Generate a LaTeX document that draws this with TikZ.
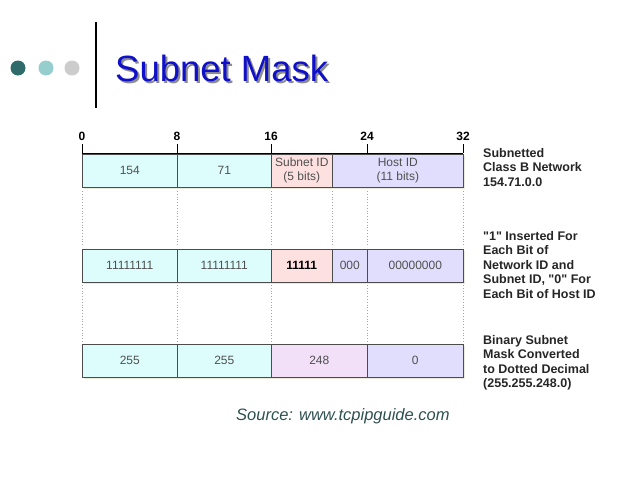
\documentclass[tikz,border=0pt]{standalone}
\usepackage{fontspec}
\defaultfontfeatures[\rmfamily]{}
\setmainfont{Liberation Sans}
\usetikzlibrary{shadows}
\definecolor{cy}{HTML}{DDFCFC}
\definecolor{pk}{HTML}{FDE0E0}
\definecolor{lv}{HTML}{E0DEFC}
\definecolor{lp}{HTML}{F2E0F8}
\definecolor{tx}{HTML}{505050}
\begin{document}
\begin{tikzpicture}[x=1pt,y=-1pt,
  cell/.style={draw=black!70,line width=0.6pt,minimum height=33pt,inner sep=0pt,anchor=north west,font=\fontsize{12}{14}\selectfont,text=tx,align=center},
  lbl/.style={anchor=north west,inner sep=0pt,font=\bfseries\fontsize{12.5}{14.5}\selectfont,align=left,text=black!85},
  dotl/.style={dotted,line width=0.8pt,black!35},
  tick/.style={font=\bfseries\fontsize{12}{13}\selectfont}]
\useasboundingbox (0,0) rectangle (638,479);
\fill[white] (0,0) rectangle (638,479);
% header
\node[circle,fill={rgb,255:red,150;green,205;blue,205},minimum size=15pt,inner sep=0] (d2) at (46,68) {};
\node[circle,fill=black!20,minimum size=15pt,inner sep=0] (d3) at (72,68) {};
\node[circle,fill={rgb,255:red,47;green,107;blue,107},minimum size=15pt,inner sep=0] (d1) at (18,68) {};
\draw[line width=1.6pt] (96,22) -- (96,108);
\node[anchor=west,inner sep=0,font=\fontsize{36.5}{38}\selectfont,text=black!45] (titleshadow) at (117,70) {Subnet Mask};
\node[anchor=west,inner sep=0,font=\fontsize{36.5}{38}\selectfont,text={rgb,255:red,16;green,16;blue,200}] (title) at (115,68) {Subnet Mask};
% scale
\draw[line width=1pt] (82,153) -- (463,153);
\foreach \b/\x in {0/82,8/177,16/271,24/367,32/463}{
  \draw[line width=1pt] (\x,144) -- (\x,153);
  \node[tick] (t\b) at (\x,136) {\b};}
% dotted
\foreach \x in {82,177,271,332,367,463} \draw[dotl] (\x,191) -- (\x,247);
\foreach \x in {82,177,271,367,463} \draw[dotl] (\x,285) -- (\x,342);
% rows
\begin{scope}[every node/.append style={drop shadow={shadow xshift=2pt,shadow yshift=-2pt,fill=yellow!40!black!25,opacity=0.6}}]
\node[cell,fill=cy,minimum width=95pt] (a1) at (82,154) {154};
\node[cell,fill=cy,minimum width=94pt] (a2) at (177,154) {71};
\node[cell,fill=pk,minimum width=61pt] (a3) at (271,154) {Subnet ID\\(5 bits)};
\node[cell,fill=lv,minimum width=131pt] (a4) at (332,154) {Host ID\\(11 bits)};
\node[cell,fill=cy,minimum width=95pt] (b1) at (82,249) {11111111};
\node[cell,fill=cy,minimum width=94pt] (b2) at (177,249) {11111111};
\node[cell,fill=pk,minimum width=61pt,font=\bfseries\fontsize{12}{14}\selectfont,text=black] (b3) at (271,249) {11111};
\node[cell,fill=lv,minimum width=35pt] (b4) at (332,249) {000};
\node[cell,fill=lv,minimum width=96pt] (b5) at (367,249) {00000000};
\node[cell,fill=cy,minimum width=95pt] (c1) at (82,344) {255};
\node[cell,fill=cy,minimum width=94pt] (c2) at (177,344) {255};
\node[cell,fill=lp,minimum width=96pt] (c3) at (271,344) {248};
\node[cell,fill=lv,minimum width=96pt] (c4) at (367,344) {0};
\end{scope}
% labels
\node[lbl] (l1) at (483,148) {Subnetted\\Class B Network\\154.71.0.0};
\node[lbl] (l2) at (483,231) {"1" Inserted For\\Each Bit of\\Network ID and\\Subnet ID, "0" For\\Each Bit of Host ID};
\node[lbl] (l3) at (483,335) {Binary Subnet\\Mask Converted\\to Dotted Decimal\\(255.255.248.0)};
\node[anchor=west,inner sep=0,font=\itshape\fontsize{16.5}{18}\selectfont,text={rgb,255:red,47;green,80;blue,80}] (src) at (236,416) {Source: www.tcpipguide.com};
\end{tikzpicture}
\end{document}
